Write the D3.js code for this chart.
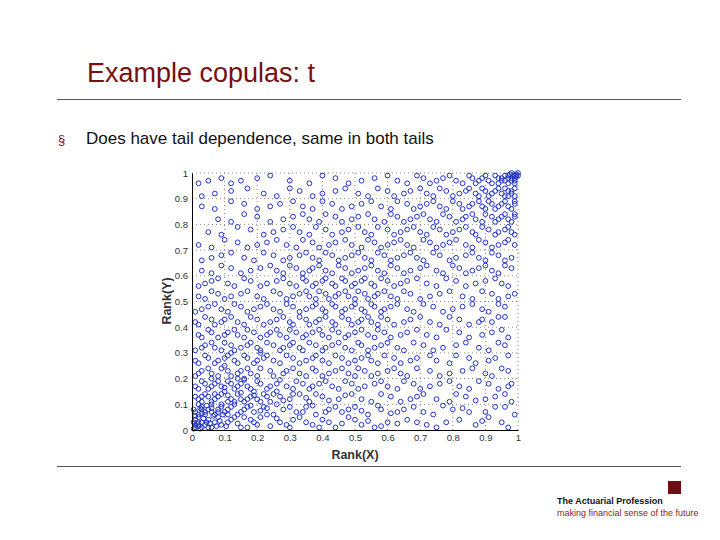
<!DOCTYPE html>
<html><head><meta charset="utf-8">
<script src="https://cdn.jsdelivr.net/npm/d3@7"></script>
<style>body{margin:0;background:#fff;font-family:"Liberation Sans",Arial,sans-serif}</style>
</head><body><svg id="c" width="720" height="540"></svg>
<script>
const title = "Example copulas: t";
const bullet = "Does have tail dependence, same in both tails";
const ticks = [0,0.1,0.2,0.3,0.4,0.5,0.6,0.7,0.8,0.9,1];
// rank pairs (percent)
const pointsText = `1,1 2,3 3,1 1,4 4,2 2,6 5,4 3,3 6,1 1,2 7,3 2,5 8,5 4,6 9,2 5,1 3,8 6,7 11,3 13,5 15,1 18,4 20,2 23,6 27,3 30,1 33,5 37,2 40,4 44,1 48,5 52,2 56,1 60,3 66,4 72,2 78,3 87,2 91,5 97,1
1,7 3,9 5,8 7,6 9,9 2,10 6,10 10,7 12,9 14,6 16,8 19,7 22,9 25,6 28,8 32,7 35,9 38,6 42,8 46,7 50,9 54,6 58,8 63,7 68,9 74,6 80,8 85,7 93,9 99,6 4,7 8,8 11,6 17,9
2,12 4,14 6,11 8,13 10,15 12,12 14,14 16,11 18,13 20,12 22,14 24,11 27,13 30,12 33,14 36,11 40,13 45,12 49,14 55,11 61,13 67,12 71,14 79,11 84,13 90,12 96,14 3,13 7,14 11,11 15,12 19,15 26,15
1,17 3,19 5,16 7,18 9,17 11,19 13,16 15,18 17,17 20,19 23,16 26,18 29,17 32,19 36,16 39,18 43,17 47,19 51,16 56,18 60,17 65,19 70,16 76,18 82,17 88,19 94,16 98,18 6,20 14,20
2,22 5,24 8,21 11,23 14,22 17,24 20,21 24,23 28,22 31,24 35,21 38,23 42,22 46,24 50,21 53,23 57,22 62,24 66,21 73,23 79,22 86,24 92,21 97,23 10,25 16,20
1,27 4,29 7,26 10,28 13,27 16,29 19,26 22,28 25,27 29,29 33,26 37,28 40,27 44,29 48,26 52,28 55,27 59,29 64,26 69,28 75,27 81,29 87,26 93,28 12,30 21,30
3,32 6,34 9,31 12,33 15,32 18,34 21,31 25,33 28,32 31,34 34,31 38,33 41,32 45,34 49,31 52,33 56,32 60,34 65,31 71,33 77,32 84,34 91,31 96,33
2,37 5,39 8,36 11,38 14,37 17,39 21,36 24,38 27,37 30,39 34,36 37,38 40,37 43,39 47,36 50,38 54,37 57,39 61,36 66,38 72,37 78,39 85,36 92,38 97,36
1,42 4,44 7,41 10,43 14,42 18,44 22,41 26,43 30,42 33,44 36,41 39,43 43,42 46,44 49,41 52,43 55,42 58,44 62,41 67,43 73,42 79,44 85,41 89,43 92,42 96,44
3,47 7,49 11,46 15,48 19,47 23,49 27,46 31,48 35,47 38,49 41,46 44,48 47,47 50,49 53,46 56,48 59,47 63,49 68,46 74,48 80,47 86,49 91,46 96,48
2,52 6,54 10,51 15,53 20,52 25,54 29,51 33,53 36,52 39,54 42,51 45,53 48,52 51,54 54,51 57,53 61,52 65,54 70,51 76,53 83,52 89,54 94,51 99,53
4,57 8,59 13,56 18,58 23,57 28,59 32,56 35,58 38,57 41,59 44,56 47,58 50,57 53,59 56,56 60,58 64,57 69,59 75,56 81,58 87,57 93,59 97,56
3,62 9,64 15,61 21,63 26,62 30,64 34,61 37,63 41,62 45,64 49,61 53,63 57,62 61,64 65,61 70,63 75,62 80,64 84,61 88,63 92,62 96,64
6,67 12,69 19,66 25,68 30,67 35,69 39,66 43,68 47,67 51,69 55,66 59,68 63,67 67,69 71,66 76,68 81,67 86,69 90,66 94,68 98,67
2,72 10,74 17,71 23,73 29,72 34,74 39,71 44,73 49,72 54,74 58,71 62,73 66,72 71,74 75,71 79,73 84,72 88,74 92,71 96,73 99,72
5,77 14,79 22,76 28,78 33,77 38,79 43,76 48,78 53,77 57,79 62,76 66,78 70,77 74,79 78,76 82,78 86,77 89,79 93,76 96,78 98,77
8,82 16,84 24,81 31,83 36,82 41,84 46,81 51,83 56,82 61,84 65,81 69,83 73,82 77,84 81,81 84,83 87,82 90,84 93,81 95,83 97,82 99,84
3,87 12,89 20,86 27,88 34,87 40,89 46,86 52,88 58,87 63,89 68,86 72,88 76,87 80,89 83,86 86,88 89,87 91,89 93,86 95,88 97,87 99,89
7,92 17,94 26,91 33,93 40,92 47,94 54,91 60,93 65,92 70,94 74,91 78,93 82,92 85,94 88,91 90,93 92,92 94,94 96,91 97,93 98,92 99,94
2,96 9,98 15,97 24,99 36,96 44,98 52,97 60,99 66,96 71,98 75,97 79,99 83,96 86,98 88,97 90,99 92,96 94,98 95,97 96,99 97,96 98,98 99,97 99,99 98,100 100,99 97,98 99,96`;
// second pass of points (denser regions)
const points2Text = `0.5,0.5 1.5,2.5 2.5,0.5 0.5,3 3.5,4.5 4.5,3 2,1.5 5.5,2.5 6.5,5.5 7.5,1.5 1,5.5 3,6.5 8.5,3.5 9.5,6 10.5,1.5 12,4 14,2.5 16,5 17,1 19,3 21,5 24,1.5 26,4.5 29,2 31,4 35,3 39,1 42,3 46,2.5 50,4 54,3.5 58,1.5 63,2.5 69,3 75,1 82,4 89,3.5 95,3
0.5,8 2.5,8.5 4.5,9.5 6,8.5 8,7 9,10 11,8 13,10 15,7 18,9.5 21,7.5 23,8.5 26,10 30,9 34,7 37,9.5 41,7 44,9 48,8 52,7.5 57,9.5 61,6.5 65,8 71,7 77,9.5 83,8.5 90,7 96,9
1,13 3,11 5,13 7,12 9,14 11,13.5 13,11 15,14.5 17,12 19,13.5 21,11 23,13 25,14 28,11.5 31,14 35,12.5 38,14 42,11.5 47,13.5 52,12 58,14 64,11 69,13 75,12 81,14 87,11.5 93,13 98,11
2,16 4,18 6,17 8,19 10,16.5 12,18 14,17 16,19.5 18,16 21,18 24,17 27,19.5 31,16 34,18 37,17 41,19 45,16 49,18 53,17 58,19 63,16 68,18 73,17 79,19 85,16 91,18 97,17
1,21 3,23 6,22 9,24 12,21 15,23 18,22 21,24 25,21 29,23 33,22 37,24 40,21 44,23 48,22 51,24 55,21 60,23 64,22 69,24 76,21 83,23 90,22 95,24
2,26 5,28 8,27 11,29 14,26 17,28 20,27 23,29 27,26 31,28 35,27 38,29 42,26 46,28 50,27 54,29 57,26 62,28 67,27 73,29 79,26 85,28 91,27 97,29
1,31 4,33 7,32 10,34 13,31 17,33 20,32 23,34 27,31 30,33 33,32 36,34 40,31 43,33 47,32 51,34 54,31 58,33 63,32 68,34 74,31 81,33 88,32 94,34
3,36 6,38 10,37 13,39 16,36 19,38 23,37 26,39 29,36 32,38 35,37 39,39 42,36 45,38 48,37 52,39 56,36 59,38 64,37 69,39 75,36 82,38 89,37 95,39
2,41 6,43 9,42 12,44 16,41 20,43 24,42 28,44 31,41 35,43 38,42 41,44 44,41 48,43 51,42 54,44 57,41 60,43 65,42 70,44 76,41 82,43 88,42 94,44
1,46 5,48 9,47 13,49 17,46 21,48 25,47 29,49 33,46 37,48 40,47 43,49 46,46 49,48 52,47 55,49 58,46 61,48 66,47 71,49 77,46 83,48 89,47 94,49
4,51 8,53 12,52 17,54 22,51 27,53 31,52 35,54 38,51 41,53 44,52 47,54 50,51 53,53 56,52 59,54 63,51 67,53 73,52 79,54 86,51 92,53 97,52
2,56 6,58 11,57 16,59 21,56 26,58 30,57 34,59 37,56 40,58 43,57 46,59 49,56 52,58 55,57 58,59 62,56 66,58 72,57 78,59 84,56 90,58 95,57
6,61 12,63 18,62 24,64 28,61 32,63 36,62 39,64 43,61 47,63 51,62 55,64 59,61 63,63 67,62 72,64 77,61 82,63 86,62 90,64 94,61 98,63
3,66 9,68 16,67 22,69 28,66 33,68 37,67 41,69 45,66 49,68 53,67 57,69 61,66 65,68 69,67 74,69 79,66 84,68 88,67 92,69 96,66
6,71 14,73 20,72 26,74 32,71 37,73 42,72 47,74 52,71 56,73 60,72 64,74 68,71 73,73 77,72 81,74 86,71 90,73 94,72 97,74
9,76 18,78 25,77 31,79 36,76 41,78 46,77 51,79 55,76 60,78 64,77 68,79 72,76 76,78 80,77 84,79 87,76 91,78 94,77 97,79 99,76
12,81 20,83 28,82 34,84 39,81 44,83 49,82 54,84 59,81 63,83 67,82 71,84 75,81 79,83 83,82 86,84 89,81 92,83 94,82 96,84 98,81 99,83
7,86 16,88 24,87 31,89 37,86 43,88 49,87 55,89 61,86 66,88 70,87 74,89 78,86 82,88 85,87 88,89 90,86 92,88 94,87 96,89 98,86 99,88
3,91 12,93 22,92 30,94 37,91 44,93 51,92 57,94 62,91 67,93 72,92 76,94 80,91 84,93 87,92 89,94 91,91 93,93 95,92 96,94 97,91 98,93 99,91
5,97 12,96 20,98 30,97 40,99 48,96 56,98 63,97 69,99 73,96 77,98 81,97 85,99 87,96 89,98 91,97 93,99 94,96 95,98 96,97 97,99 98,97 99,98 99.5,99.5 98.5,99 99.5,98.5 97.5,99.5 100,100`;
const parse = t => t.trim().split(/\s+/).map(s => s.split(",").map(v => +v / 100));
const points = parse(pointsText).concat(parse(points2Text));

const svg = d3.select("#c");
svg.append("text").attr("x",87).attr("y",82).attr("fill","#7a0f0f").attr("font-size",27).text(title);
svg.append("line").attr("x1",57).attr("x2",681).attr("y1",99.5).attr("y2",99.5).attr("stroke","#555").attr("stroke-width",1);
svg.append("text").attr("x",58).attr("y",144).attr("fill","#7a0f0f").attr("font-size",13).text("§");
svg.append("text").attr("x",86).attr("y",144).attr("fill","#111").attr("font-size",17).text(bullet);
svg.append("line").attr("x1",57).attr("x2",681).attr("y1",466.5).attr("y2",466.5).attr("stroke","#555").attr("stroke-width",1);

const x = d3.scaleLinear().domain([0,1]).range([192,518]);
const y = d3.scaleLinear().domain([0,1]).range([430,173]);
const g = svg.append("g");
g.selectAll(".gx").data(ticks.slice(1)).join("line").attr("x1",d=>x(d)).attr("x2",d=>x(d)).attr("y1",y(0)).attr("y2",y(1))
  .attr("stroke","#888").attr("stroke-dasharray","1,3");
g.selectAll(".gy").data(ticks.slice(1)).join("line").attr("y1",d=>y(d)).attr("y2",d=>y(d)).attr("x1",x(0)).attr("x2",x(1))
  .attr("stroke","#888").attr("stroke-dasharray","1,3");
g.append("g").selectAll("circle").data(points).join("circle")
  .attr("cx",d=>x(d[0])).attr("cy",d=>y(d[1])).attr("r",2.4)
  .attr("fill","none").attr("stroke","#2233c8").attr("stroke-width",1);
const ax = g.append("g").attr("transform",`translate(0,${y(0)})`).call(d3.axisBottom(x).tickValues(ticks).tickFormat(d3.format("~g")).tickSize(0).tickPadding(4));
const ay = g.append("g").attr("transform",`translate(${x(0)},0)`).call(d3.axisLeft(y).tickValues(ticks).tickFormat(d3.format("~g")).tickSize(0).tickPadding(4));
[ax,ay].forEach(a=>{a.select(".domain").attr("stroke","#000");a.selectAll("text").attr("font-size",9.5).attr("fill","#333").attr("font-family","Liberation Sans, Arial");});
svg.append("text").attr("x",355).attr("y",459).attr("text-anchor","middle").attr("font-weight","bold").attr("font-size",12.5).attr("fill","#333").text("Rank(X)");
svg.append("text").attr("transform","translate(171,301) rotate(-90)").attr("text-anchor","middle").attr("font-weight","bold").attr("font-size",12.5).attr("fill","#333").text("Rank(Y)");

svg.append("rect").attr("x",668).attr("y",481).attr("width",13).attr("height",13).attr("fill","#6b0f14");
svg.append("text").attr("x",557).attr("y",504).attr("font-size",9).attr("font-weight","bold").attr("fill","#111").text("The Actuarial Profession");
svg.append("text").attr("x",557).attr("y",516).attr("font-size",9).attr("fill","#8a1c1c").text("making financial sense of the future");
</script></body></html>
